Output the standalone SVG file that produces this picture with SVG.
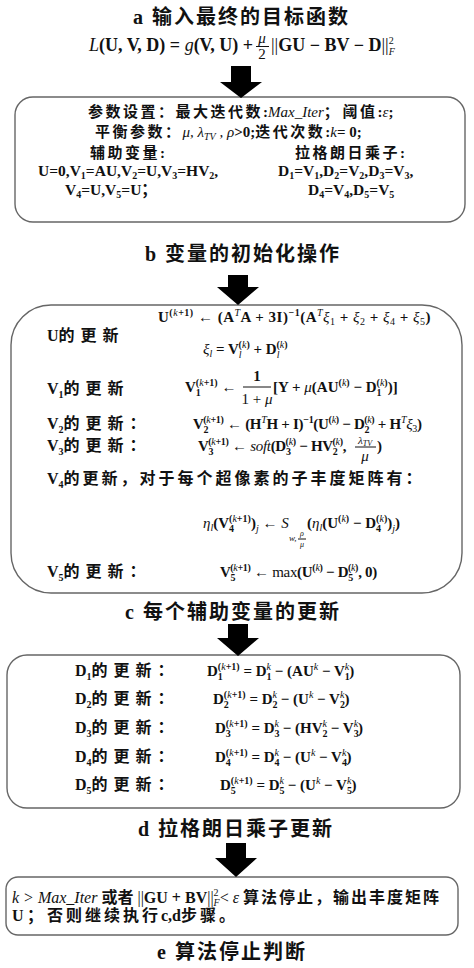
<svg xmlns="http://www.w3.org/2000/svg" width="474" height="968" viewBox="0 0 474 968">
<style>
text{fill:#111}
.t{font-family:"Liberation Serif","Noto Sans CJK SC",serif;font-weight:bold;font-size:20px;letter-spacing:2px}
.c{font-family:"Liberation Serif","Noto Sans CJK SC",serif;font-weight:bold;font-size:16px}
.m{font-family:"Liberation Serif","DejaVu Serif","Noto Sans CJK SC",serif;font-weight:bold;font-size:15px}
.i{font-style:italic;font-weight:normal}
.n{font-weight:normal}
.s{font-size:10px}
.box{fill:#fff;stroke:#666;stroke-width:1.4}
.bar{stroke:#111;stroke-width:1}
.arr{fill:#000}
</style>
<rect width="474" height="968" fill="#fff"/>

<g id="title-a"><text class="t" x="133" y="24">a 输入最终的目标函数</text>
<text class="m" x="89" y="51" style="font-size:18px"><tspan class="i">L</tspan>(U, V, D) = <tspan class="i">g</tspan>(V, U) +</text>
<text class="m i" x="262" y="43" text-anchor="middle" style="font-size:15px">μ</text>
<line class="bar" x1="256" y1="46.5" x2="269" y2="46.5"/>
<text class="m n" x="262" y="59" text-anchor="middle" style="font-size:15px">2</text>
<text class="m" x="271" y="51" style="font-size:18px"><tspan class="n">||</tspan>GU − BV − D<tspan class="n">||</tspan><tspan class="s n" dy="-7">2</tspan><tspan class="s i" dx="-5" dy="11">F</tspan></text>
</g>

<g id="node-b">
<rect class="box" x="15" y="97" width="450" height="125" rx="18"/>
<text class="c" x="88" y="117" style="font-size:15px"><tspan letter-spacing="2.5">参数设置：最大迭代数</tspan>:<tspan class="i">Max_Iter</tspan>； <tspan letter-spacing="2.5">阈值</tspan>:<tspan class="i">ε</tspan>;</text>
<text class="c" x="95" y="137" style="font-size:15px"><tspan letter-spacing="2.5">平衡参数：</tspan><tspan class="i">μ, λ</tspan><tspan class="i s" dy="3">TV</tspan><tspan class="i" dy="-3"> , ρ</tspan>&gt;0;<tspan letter-spacing="2.5">迭代次数</tspan>:<tspan class="i">k</tspan>= 0;</text>
<text class="c" x="90" y="158" style="font-size:15px" letter-spacing="2.5">辅助变量:</text>
<text class="c" x="295" y="158" style="font-size:15px" letter-spacing="2.5">拉格朗日乘子:</text>
<text class="m" x="38" y="176" style="font-size:15.5px">U=0,V<tspan class="s" dy="3">1</tspan><tspan dy="-3">=AU,V</tspan><tspan class="s" dy="3">2</tspan><tspan dy="-3">=U,V</tspan><tspan class="s" dy="3">3</tspan><tspan dy="-3">=HV</tspan><tspan class="s" dy="3">2</tspan><tspan dy="-3">,</tspan></text>
<text class="m" x="65" y="195" style="font-size:15.5px">V<tspan class="s" dy="3">4</tspan><tspan dy="-3">=U,V</tspan><tspan class="s" dy="3">5</tspan><tspan dy="-3">=U；</tspan></text>
<text class="m" x="278" y="176" style="font-size:15.5px">D<tspan class="s" dy="3">1</tspan><tspan dy="-3">=V</tspan><tspan class="s" dy="3">1</tspan><tspan dy="-3">,D</tspan><tspan class="s" dy="3">2</tspan><tspan dy="-3">=V</tspan><tspan class="s" dy="3">2</tspan><tspan dy="-3">,D</tspan><tspan class="s" dy="3">3</tspan><tspan dy="-3">=V</tspan><tspan class="s" dy="3">3</tspan><tspan dy="-3">,</tspan></text>
<text class="m" x="308" y="195" style="font-size:15.5px">D<tspan class="s" dy="3">4</tspan><tspan dy="-3">=V</tspan><tspan class="s" dy="3">4</tspan><tspan dy="-3">,D</tspan><tspan class="s" dy="3">5</tspan><tspan dy="-3">=V</tspan><tspan class="s" dy="3">5</tspan></text>
<text class="t" x="145" y="261">b 变量的初始化操作</text>
</g>

<g id="node-c">
<rect class="box" x="11" y="305" width="451" height="288" rx="40"/>
<text class="m" x="158" y="322" letter-spacing="0.5">U<tspan class="s" dy="-6">(<tspan class="i">k</tspan>+1)</tspan><tspan dy="6"> ← (A</tspan><tspan class="s i" dy="-6">T</tspan><tspan dy="6">A + 3I)</tspan><tspan class="s" dy="-6">−1</tspan><tspan dy="6">(A</tspan><tspan class="s i" dy="-6">T</tspan><tspan class="i" dy="6">ξ</tspan><tspan class="s n" dy="3">1</tspan><tspan dy="-3"> + </tspan><tspan class="i">ξ</tspan><tspan class="s n" dy="3">2</tspan><tspan dy="-3"> + </tspan><tspan class="i">ξ</tspan><tspan class="s n" dy="3">4</tspan><tspan dy="-3"> + </tspan><tspan class="i">ξ</tspan><tspan class="s n" dy="3">5</tspan><tspan dy="-3">)</tspan></text>
<text class="c" x="47" y="341">U<tspan letter-spacing="6">的更新</tspan></text>
<text class="m" x="203" y="354"><tspan class="i">ξ</tspan><tspan class="s i" dy="3">l</tspan><tspan dy="-3"> = V</tspan><tspan class="s i" dy="4">l</tspan><tspan class="s" dx="-3" dy="-10">(<tspan class="i">k</tspan>)</tspan><tspan dy="6"> + D</tspan><tspan class="s i" dy="4">l</tspan><tspan class="s" dx="-3" dy="-10">(<tspan class="i">k</tspan>)</tspan></text>

<text class="c" x="47" y="394">V<tspan class="s" dy="4">1</tspan><tspan dy="-4" letter-spacing="6">的更新</tspan></text>
<text class="m" x="185" y="392">V<tspan class="s" dy="4">1</tspan><tspan class="s" dx="-5" dy="-10">(<tspan class="i">k</tspan>+1)</tspan><tspan dy="6"> ←</tspan></text>
<text class="m" x="257" y="381" text-anchor="middle">1</text>
<line class="bar" x1="243" y1="387" x2="271" y2="387"/>
<text class="m n" x="257" y="404" text-anchor="middle">1 + <tspan class="i">μ</tspan></text>
<text class="m" x="273" y="392">[Y + <tspan class="i">μ</tspan>(AU<tspan class="s" dy="-6">(<tspan class="i">k</tspan>)</tspan><tspan dy="6"> − D</tspan><tspan class="s" dy="4">1</tspan><tspan class="s" dx="-5" dy="-10">(<tspan class="i">k</tspan>)</tspan><tspan dy="6">)]</tspan></text>

<text class="c" x="47" y="429">V<tspan class="s" dy="4">2</tspan><tspan dy="-4" letter-spacing="6">的更新：</tspan></text>
<text class="m" x="193" y="429" letter-spacing="-0.3">V<tspan class="s" dy="4">2</tspan><tspan class="s" dx="-5" dy="-10">(<tspan class="i">k</tspan>+1)</tspan><tspan dy="6"> ← (H</tspan><tspan class="s i" dy="-6">T</tspan><tspan dy="6">H + I)</tspan><tspan class="s" dy="-6">−1</tspan><tspan dy="6">(U</tspan><tspan class="s" dy="-6">(<tspan class="i">k</tspan>)</tspan><tspan dy="6"> − D</tspan><tspan class="s" dy="4">2</tspan><tspan class="s" dx="-5" dy="-10">(<tspan class="i">k</tspan>)</tspan><tspan dy="6"> + H</tspan><tspan class="s i" dy="-6">T</tspan><tspan class="i" dy="6">ξ</tspan><tspan class="s n" dy="3">3</tspan><tspan dy="-3">)</tspan></text>

<text class="c" x="47" y="451">V<tspan class="s" dy="4">3</tspan><tspan dy="-4" letter-spacing="6">的更新：</tspan></text>
<text class="m" x="198" y="451" letter-spacing="-0.3">V<tspan class="s" dy="4">3</tspan><tspan class="s" dx="-5" dy="-10">(<tspan class="i">k</tspan>+1)</tspan><tspan dy="6"> ← </tspan><tspan class="i">soft</tspan>(D<tspan class="s" dy="4">3</tspan><tspan class="s" dx="-5" dy="-10">(<tspan class="i">k</tspan>)</tspan><tspan dy="6"> − HV</tspan><tspan class="s" dy="4">2</tspan><tspan class="s" dx="-5" dy="-10">(<tspan class="i">k</tspan>)</tspan><tspan dy="6">,</tspan></text>
<text class="m i" x="365" y="444" text-anchor="middle" style="font-size:11px">λ<tspan style="font-size:8px" dy="2">TV</tspan></text>
<line class="bar" x1="355" y1="447" x2="376" y2="447"/>
<text class="m i" x="365" y="461" text-anchor="middle">μ</text>
<text class="m" x="377" y="451">)</text>

<text class="c" x="47" y="484">V<tspan class="s" dy="4">4</tspan><tspan dy="-4" letter-spacing="3">的更新，对于每个超像素的子丰度矩阵有：</tspan></text>
<text class="m" x="203" y="528"><tspan class="i">η</tspan><tspan class="s i" dy="3">l</tspan><tspan dy="-3">(V</tspan><tspan class="s" dy="4">4</tspan><tspan class="s" dx="-5" dy="-10">(<tspan class="i">k</tspan>+1)</tspan><tspan dy="6">)</tspan><tspan class="s i" dy="4">j</tspan><tspan dy="-4"> ← </tspan><tspan class="i">S</tspan></text>
<text class="m i" x="289" y="541" style="font-size:9px">w,</text>
<text class="m i" x="302" y="536" text-anchor="middle" style="font-size:8px">ρ</text>
<line class="bar" x1="298" y1="539" x2="306" y2="539" stroke-width="0.7"/>
<text class="m i" x="302" y="547" text-anchor="middle" style="font-size:8px">μ</text>
<text class="m" x="307" y="528">(<tspan class="i">η</tspan><tspan class="s i" dy="3">l</tspan><tspan dy="-3">(U</tspan><tspan class="s" dy="-6">(<tspan class="i">k</tspan>)</tspan><tspan dy="6"> − D</tspan><tspan class="s" dy="4">4</tspan><tspan class="s" dx="-5" dy="-10">(<tspan class="i">k</tspan>)</tspan><tspan dy="6">)</tspan><tspan class="s i" dy="4">j</tspan><tspan dy="-4">)</tspan></text>

<text class="c" x="47" y="577">V<tspan class="s" dy="4">5</tspan><tspan dy="-4" letter-spacing="6">的更新：</tspan></text>
<text class="m" x="220" y="577" letter-spacing="-0.3">V<tspan class="s" dy="4">5</tspan><tspan class="s" dx="-5" dy="-10">(<tspan class="i">k</tspan>+1)</tspan><tspan dy="6"> ← </tspan><tspan class="n">max</tspan>(U<tspan class="s" dy="-6">(<tspan class="i">k</tspan>)</tspan><tspan dy="6"> − D</tspan><tspan class="s" dy="4">5</tspan><tspan class="s" dx="-5" dy="-10">(<tspan class="i">k</tspan>)</tspan><tspan dy="6">, 0)</tspan></text>
<text class="t" x="125" y="619">c 每个辅助变量的更新</text>
</g>

<g id="node-d">
<rect class="box" x="7" y="655" width="453" height="153" rx="20"/>
<text class="c" x="75" y="676">D<tspan class="s" dy="4">1</tspan><tspan dy="-4" letter-spacing="6">的更新：</tspan></text>
<text class="m" x="207" y="676">D<tspan class="s" dy="4">1</tspan><tspan class="s" dx="-5" dy="-10">(<tspan class="i">k</tspan>+1)</tspan><tspan dy="6"> = D</tspan><tspan class="s" dy="4">1</tspan><tspan class="s i" dx="-5" dy="-10">k</tspan><tspan dy="6"> − (AU</tspan><tspan class="s i" dy="-6">k</tspan><tspan dy="6"> − V</tspan><tspan class="s" dy="4">1</tspan><tspan class="s i" dx="-5" dy="-10">k</tspan><tspan dy="6">)</tspan></text>
<text class="c" x="75" y="704">D<tspan class="s" dy="4">2</tspan><tspan dy="-4" letter-spacing="6">的更新：</tspan></text>
<text class="m" x="213" y="704">D<tspan class="s" dy="4">2</tspan><tspan class="s" dx="-5" dy="-10">(<tspan class="i">k</tspan>+1)</tspan><tspan dy="6"> = D</tspan><tspan class="s" dy="4">2</tspan><tspan class="s i" dx="-5" dy="-10">k</tspan><tspan dy="6"> − (U</tspan><tspan class="s i" dy="-6">k</tspan><tspan dy="6"> − V</tspan><tspan class="s" dy="4">2</tspan><tspan class="s i" dx="-5" dy="-10">k</tspan><tspan dy="6">)</tspan></text>
<text class="c" x="75" y="733">D<tspan class="s" dy="4">3</tspan><tspan dy="-4" letter-spacing="6">的更新：</tspan></text>
<text class="m" x="215" y="733">D<tspan class="s" dy="4">3</tspan><tspan class="s" dx="-5" dy="-10">(<tspan class="i">k</tspan>+1)</tspan><tspan dy="6"> = D</tspan><tspan class="s" dy="4">3</tspan><tspan class="s i" dx="-5" dy="-10">k</tspan><tspan dy="6"> − (HV</tspan><tspan class="s" dy="4">2</tspan><tspan class="s i" dx="-5" dy="-10">k</tspan><tspan dy="6"> − V</tspan><tspan class="s" dy="4">3</tspan><tspan class="s i" dx="-5" dy="-10">k</tspan><tspan dy="6">)</tspan></text>
<text class="c" x="75" y="762">D<tspan class="s" dy="4">4</tspan><tspan dy="-4" letter-spacing="6">的更新：</tspan></text>
<text class="m" x="215" y="762">D<tspan class="s" dy="4">4</tspan><tspan class="s" dx="-5" dy="-10">(<tspan class="i">k</tspan>+1)</tspan><tspan dy="6"> = D</tspan><tspan class="s" dy="4">4</tspan><tspan class="s i" dx="-5" dy="-10">k</tspan><tspan dy="6"> − (U</tspan><tspan class="s i" dy="-6">k</tspan><tspan dy="6"> − V</tspan><tspan class="s" dy="4">4</tspan><tspan class="s i" dx="-5" dy="-10">k</tspan><tspan dy="6">)</tspan></text>
<text class="c" x="75" y="790">D<tspan class="s" dy="4">5</tspan><tspan dy="-4" letter-spacing="6">的更新：</tspan></text>
<text class="m" x="220" y="790">D<tspan class="s" dy="4">5</tspan><tspan class="s" dx="-5" dy="-10">(<tspan class="i">k</tspan>+1)</tspan><tspan dy="6"> = D</tspan><tspan class="s" dy="4">5</tspan><tspan class="s i" dx="-5" dy="-10">k</tspan><tspan dy="6"> − (U</tspan><tspan class="s i" dy="-6">k</tspan><tspan dy="6"> − V</tspan><tspan class="s" dy="4">5</tspan><tspan class="s i" dx="-5" dy="-10">k</tspan><tspan dy="6">)</tspan></text>
<text class="t" x="138" y="836">d 拉格朗日乘子更新</text>
</g>

<g id="node-e">
<rect class="box" x="6" y="877" width="452" height="58" rx="12"/>
<text class="c" x="12" y="903"><tspan class="i" style="font-family:'Liberation Serif',serif">k &gt; Max_Iter</tspan> 或者 <tspan class="n">||</tspan>GU + BV<tspan class="n">||</tspan><tspan class="s n" dy="-7">2</tspan><tspan class="s i" dx="-5" dy="10">F</tspan><tspan class="n" dy="-3">&lt;</tspan> <tspan class="i">ε</tspan> <tspan letter-spacing="2">算法停止，输出丰度矩阵</tspan></text>
<text class="c" y="921"><tspan x="12">U</tspan><tspan x="27">；</tspan><tspan x="47" letter-spacing="3">否则继续执行</tspan>c,d<tspan letter-spacing="3">步骤。</tspan></text>
<text class="t" x="157" y="959">e 算法停止判断</text>
</g>

<g id="connectors">
<path class="arr" d="M231 66H251V82H262L241 98L220 82H231Z"/>
<path class="arr" d="M228 275H248V287H259L238 305L217 287H228Z"/>
<path class="arr" d="M228 624H248V638H259L238 656L217 638H228Z"/>
<path class="arr" d="M226 843H246V858H257L236 877L215 858H226Z"/>
</g>
</svg>
